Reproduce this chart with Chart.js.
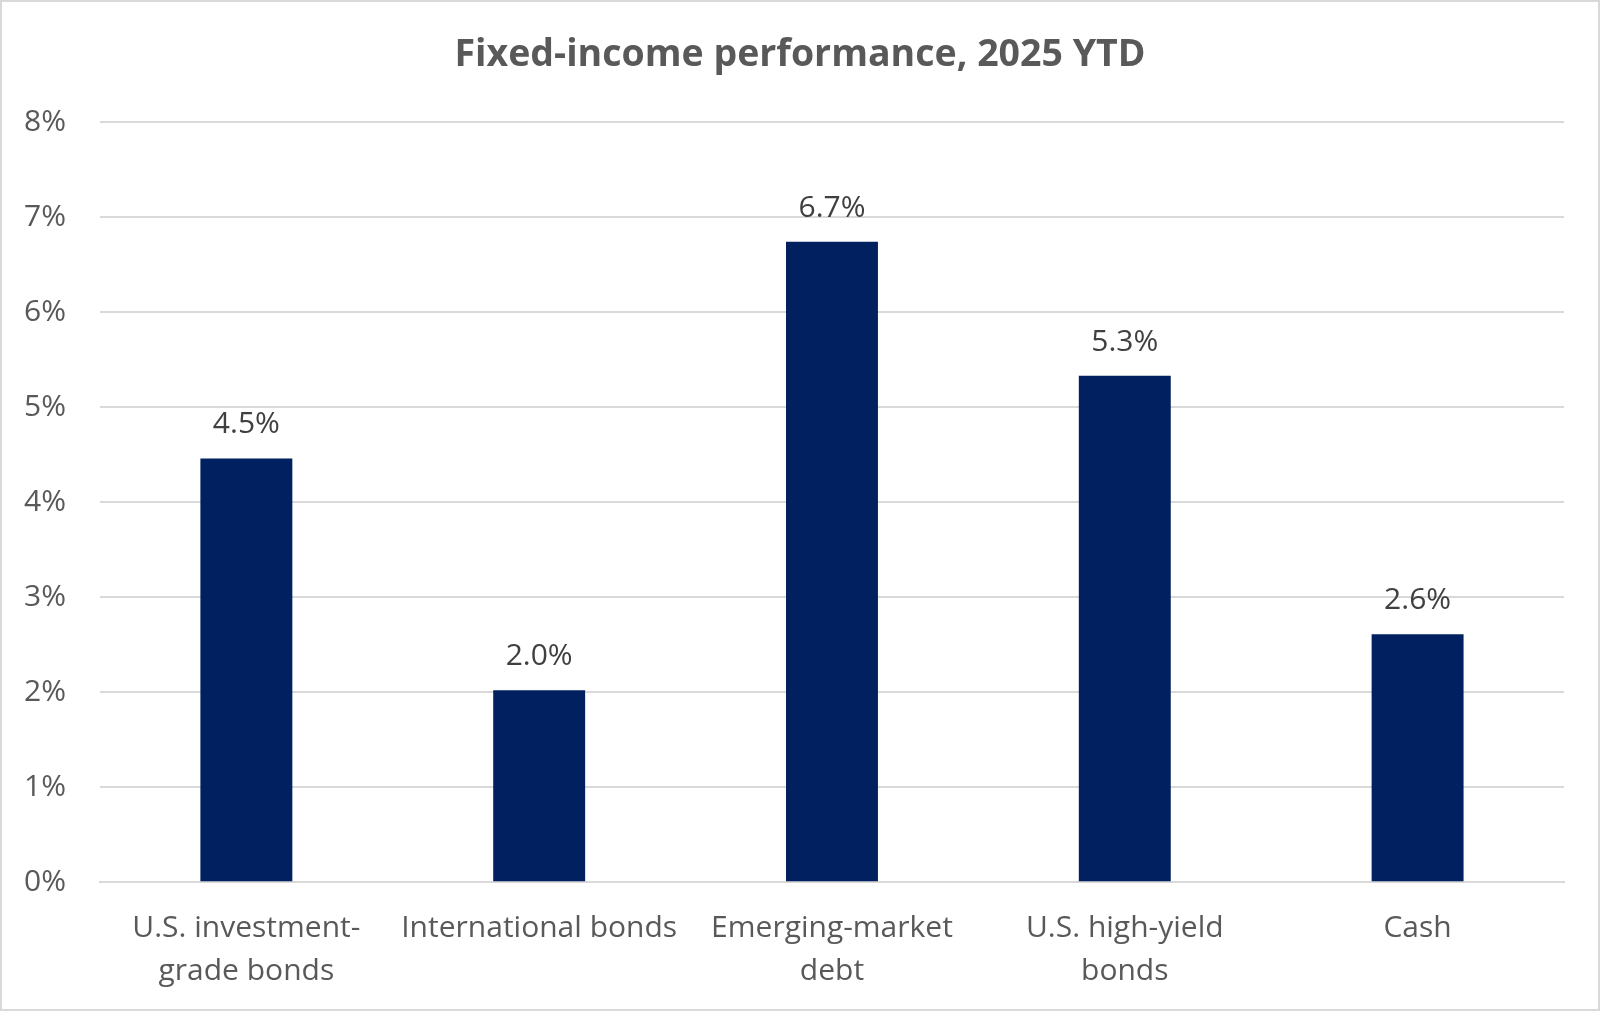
<!DOCTYPE html>
<html>
<head>
<meta charset="utf-8">
<script src="https://cdn.jsdelivr.net/npm/chart.js@4/dist/chart.umd.min.js"></script>
<style>
  html, body { margin: 0; padding: 0; background: #fff; }
  #wrap { width: 1600px; height: 1011px; box-sizing: border-box; border: 2px solid #d9d9d9; }
</style>
</head>
<body>
<div id="wrap"><canvas id="perf_chart"></canvas></div>
<script>
// Asset classes along the x-axis
var categories = [
    ["U.S. investment-", "grade bonds"],
    ["International bonds"],
    ["Emerging-market", "debt"],
    ["U.S. high-yield", "bonds"],
    ["Cash"]
];

// YTD returns in percent
var returns = [4.46, 2.02, 6.74, 5.33, 2.61];

var chartTitle = "Fixed-income performance, 2025 YTD";

var fontFamily = "'Open Sans', 'Noto Sans', sans-serif";
var textGrey = "#595959";

// draws the value above every bar
var barLabels = {
    id: 'barLabels',
    afterDatasetsDraw: function(chart) {
        var ctx = chart.ctx;
        var meta = chart.getDatasetMeta(0);
        ctx.save();
        ctx.font = "30px " + fontFamily;
        ctx.fillStyle = "#404040";
        ctx.textAlign = "center";
        ctx.textBaseline = "alphabetic";
        meta.data.forEach(function(bar, i) {
            ctx.fillText(returns[i].toFixed(1) + "%", bar.x, bar.y - 25);
        });
        ctx.restore();
    }
};

// title centred on the whole canvas (the built-in one follows the uneven padding)
var centredTitle = {
    id: 'centredTitle',
    afterDraw: function(chart) {
        var ctx = chart.ctx;
        ctx.save();
        ctx.font = "bold 37.5px " + fontFamily;
        ctx.fillStyle = textGrey;
        ctx.textAlign = "center";
        ctx.textBaseline = "middle";
        ctx.fillText(chartTitle, chart.width / 2, 53);
        ctx.restore();
    }
};

var ctx = document.getElementById("perf_chart");
var myChart = new Chart(ctx, {
    type: 'bar',
    data: {
        labels: categories,
        datasets: [
            {
                data: returns,
                backgroundColor: "#002060",
                barPercentage: 0.314,
                categoryPercentage: 1.0
            }
        ]
    },
    options: {
        responsive: true,
        maintainAspectRatio: false,
        animation: false,
        layout: { padding: { top: 120, left: -12, right: 34, bottom: -9 } },
        plugins: {
            legend: { display: false },
            tooltip: { enabled: false },
            title: { display: false }
        },
        scales: {
            x: {
                grid: { display: false, drawTicks: false },
                border: { display: true, color: "#d9d9d9", width: 2 },
                ticks: {
                    color: textGrey,
                    font: { family: fontFamily, size: 30, lineHeight: 1.43 },
                    padding: 25,
                    maxRotation: 0,
                    autoSkip: false
                }
            },
            y: {
                min: 0,
                max: 8,
                grid: { color: "#d9d9d9", lineWidth: 2, drawTicks: false },
                border: { display: false },
                ticks: {
                    stepSize: 1,
                    color: textGrey,
                    font: { family: fontFamily, size: 30 },
                    padding: 34,
                    callback: function(v) { return v + "%"; }
                }
            }
        }
    },
    plugins: [barLabels, centredTitle]
});
</script>
</body>
</html>
